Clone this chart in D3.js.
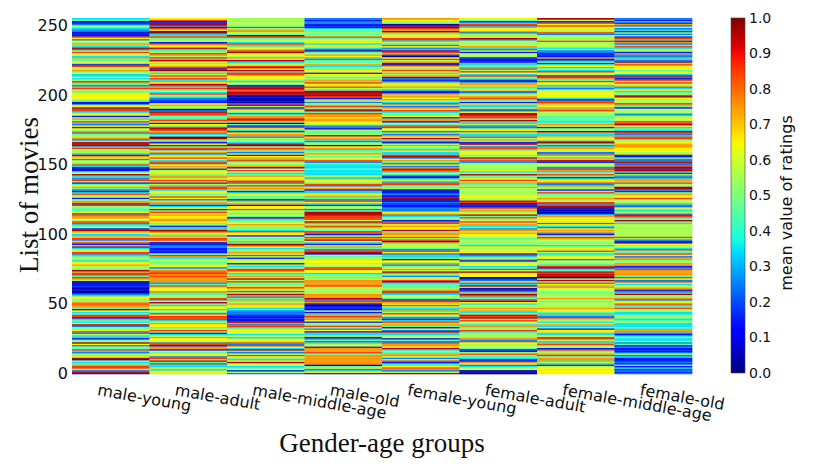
<!DOCTYPE html>
<html>
<head>
<meta charset="utf-8">
<script src="https://cdn.jsdelivr.net/npm/d3@7"></script>
<style>
body { margin: 0; background: #fff; }
</style>
</head>
<body>
<svg id="chart" width="825" height="469"></svg>
<script>
// gender-age groups (columns)
var groups = ["male-young", "male-adult", "male-middle-age", "male-old",
    "female-young", "female-adult", "female-middle-age", "female-old"];

// mean ratings per movie, one digit per movie (row 0 at bottom), value = (digit + 0.5) / 10
var maleYoung = "1926887435196452384526954173582645296347182536947787546632000011100578482794557663554728563941852847357916438856778264445297361558392476415827396410038455267935468399952746483559623857416638296511456666545838472536336475581464473568529347562681102234521043";
var maleAdult = "5647537249582664617718266675394854667538885846365749628554736648483777878874265545637251111221058847568937154677667684963937526854663827594863755659476283586427528496174905385898461683548892055761122458364872967385857491876469385785439668155487391689291186";
var maleMiddle = "2516436595746852493682856475356653827911111222436575474839625786448595743688534956415857453689475461668354576547146455866175394456394748582765743586174658376952478519364583759368140589774246715180000019988991457466682796986439575669846478365489463752555555";
var maleOld = "1638540777777748777165384295371625846163783715011007829777555568777754543668856566554619284751369726188463857958889994255136284746371752846637533334333528564575437615483759544518256677677849258362571899994586684754561664537544836754183653656485454431112212";
var femaleYoung = "9527864318526374539677284165379261475839246857335867294563827544471865253957648356943726824565718586774966762814538462221112019112110544827539146389725847629833574635184967248562845173964538672483576747193575648129757584671975860948172684572866571781904567";
var femaleAdult = "0006532671134485114655682745553854736584989537575636184729481059385210665958436651753816565574555456675725375855849657481908955665555575475864495364555528395466638259147583358648257394889962853751538755286475739144836858343711115551583755552964527667283146";
var femaleMiddle = "6666659357375275481648375826375615376354827346575555457555455637684950998947183555266435856535465726184758362665673100109828647554851547285639485372846519475382657384925647371549574344445558376578293666664273568472956835364142171112253565585555285566868159";
var femaleOld = "2121314121113252111214253353183735333543454335584386527459381746358268477778217755372684483556192585555555557495381753462835648657492916584738259399182292841955666777664827289347598856552355614785556925476385585812936646668492732831563842793815249326271312";

var columns = [maleYoung, maleAdult, maleMiddle, maleOld, femaleYoung, femaleAdult, femaleMiddle, femaleOld];
var yTicks = [0, 50, 100, 150, 200, 250];
var cbTicks = [0, 0.1, 0.2, 0.3, 0.4, 0.5, 0.6, 0.7, 0.8, 0.9, 1.0];

var cells = [];
columns.forEach(function (s, c) {
    for (var r = 0; r < s.length; r++) {
        cells.push({col: groups[c], row: r, value: (+s[r] + 0.5) / 10});
    }
});

// matplotlib "jet"
var jetR = d3.scaleLinear().domain([0, 0.35, 0.66, 0.89, 1]).range([0, 0, 1, 1, 0.5]).clamp(true);
var jetG = d3.scaleLinear().domain([0, 0.125, 0.375, 0.64, 0.91, 1]).range([0, 0, 1, 1, 0, 0]).clamp(true);
var jetB = d3.scaleLinear().domain([0, 0.11, 0.34, 0.65, 1]).range([0.5, 1, 1, 0, 0]).clamp(true);
function jet(v) {
    return d3.rgb(jetR(v) * 255, jetG(v) * 255, jetB(v) * 255).toString();
}

var svg = d3.select("#chart");
var plotLeft = 72, plotRight = 692, plotTop = 18, plotBottom = 374;

var x = d3.scaleBand().domain(groups).range([plotLeft, plotRight]);
var y = d3.scaleLinear().domain([-0.5, 255.5]).range([plotBottom, plotTop]);

svg.append("g").selectAll("rect")
    .data(cells)
    .enter().append("rect")
    .attr("x", function (d) { return x(d.col); })
    .attr("y", function (d) { return y(d.row + 0.5); })
    .attr("width", x.bandwidth() + 0.3)
    .attr("height", y(0) - y(1) + 0.3)
    .attr("fill", function (d) { return jet(d.value); });

var yAxis = svg.append("g")
    .attr("transform", "translate(" + plotLeft + ",0)")
    .call(d3.axisLeft(y).tickValues(yTicks).tickSize(0).tickPadding(4));
yAxis.select(".domain").remove();
yAxis.selectAll("text").style("font-family", "DejaVu Sans").style("font-size", "16px").attr("fill", "#111");

// rotated group labels
svg.append("g").selectAll("text")
    .data(groups)
    .enter().append("text")
    .attr("transform", function (d) {
        return "translate(" + (x(d) + x.bandwidth() / 2 - 12) + ",384) rotate(10)";
    })
    .attr("dy", "0.7em")
    .style("font-family", "DejaVu Sans")
    .style("font-size", "16px")
    .attr("fill", "#111")
    .text(function (d) { return d; });

svg.append("text")
    .attr("x", 382).attr("y", 452)
    .attr("text-anchor", "middle")
    .style("font-family", "Liberation Serif")
    .style("font-size", "27px")
    .attr("fill", "#111")
    .text("Gender-age groups");

svg.append("text")
    .attr("transform", "translate(38,195) rotate(-90)")
    .attr("text-anchor", "middle")
    .style("font-family", "Liberation Serif")
    .style("font-size", "27px")
    .attr("fill", "#111")
    .text("List of movies");

// colour bar
var cbX = 731, cbW = 14, cbTop = 18, cbBottom = 373;
var cb = d3.scaleLinear().domain([0, 1]).range([cbBottom, cbTop]);
var grad = svg.append("defs").append("linearGradient")
    .attr("id", "jetgrad").attr("x1", 0).attr("y1", 1).attr("x2", 0).attr("y2", 0);
grad.selectAll("stop")
    .data(d3.range(0, 1.0001, 0.02))
    .enter().append("stop")
    .attr("offset", function (d) { return d; })
    .attr("stop-color", function (d) { return jet(d); });
svg.append("rect")
    .attr("x", cbX).attr("y", cbTop).attr("width", cbW).attr("height", cbBottom - cbTop)
    .attr("fill", "url(#jetgrad)").attr("stroke", "#444").attr("stroke-width", 0.6);

var cbAxis = svg.append("g")
    .attr("transform", "translate(" + (cbX + cbW) + ",0)")
    .call(d3.axisRight(cb).tickValues(cbTicks).tickFormat(d3.format(".1f")).tickSize(0).tickPadding(4));
cbAxis.select(".domain").remove();
cbAxis.selectAll("text").style("font-family", "DejaVu Sans").style("font-size", "14px").attr("fill", "#111");

svg.append("text")
    .attr("transform", "translate(792,203) rotate(-90)")
    .attr("text-anchor", "middle")
    .style("font-family", "DejaVu Sans")
    .style("font-size", "16px")
    .attr("fill", "#111")
    .text("mean value of ratings");
</script>
</body>
</html>
